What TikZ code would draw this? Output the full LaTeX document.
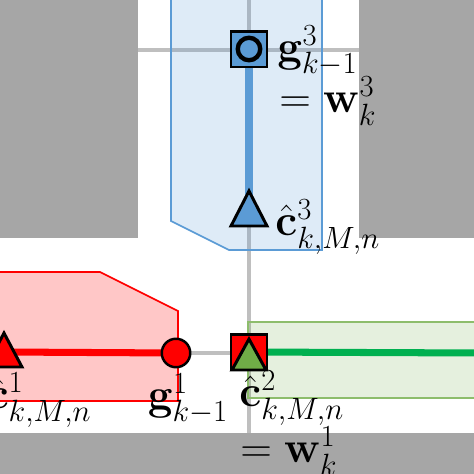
\documentclass[tikz,border=0pt]{standalone}
\usepackage{fix-cm}
\usepackage{amsmath,amssymb}
\usepackage{xcolor}
\usepackage{tikz}
\usetikzlibrary{positioning}
\definecolor{mapGray}{HTML}{A6A6A6}
\definecolor{roadGray}{HTML}{BFBFBF}
\definecolor{agtBlue}{HTML}{5B9BD5}
\definecolor{agtRed}{HTML}{FF0000}
\definecolor{agtGreen}{HTML}{70AD47}
\definecolor{pathGreen}{HTML}{00B050}

\begin{document}
\begin{tikzpicture}[x=0.02cm, y=-0.02cm, font=\fontsize{25}{30}\selectfont,
  road/.style={roadGray,line width=2.3pt},
  zone/.style={line width=0.9pt},
  trail/.style={line width=4pt},
  marker/.style={draw=black,line width=1.7pt},
  box/.style={marker,rectangle,minimum size=0.72cm,inner sep=0pt},
  lbl/.style={inner sep=0pt}]
\useasboundingbox (0,0) rectangle (474,474);
\clip (0,0) rectangle (474,474);
% map: blocks and roads
\fill[mapGray] (0,0) rectangle (138,238);
\fill[mapGray] (359,0) rectangle (474,238);
\fill[mapGray] (0,433) rectangle (474,474);
\draw[road] (249,0) -- (249,433);
\draw[road] (138,50) -- (359,50);
\draw[road] (0,353) -- (474,353);
% zones of the three agents
\draw[zone,draw=agtBlue,fill=agtBlue,fill opacity=0.2]
  (171,-5) -- (171,221) -- (229,250) -- (322,250) -- (322,-5) -- cycle;
\draw[zone,draw=agtRed,fill=agtRed,fill opacity=0.22]
  (-5,272) -- (100,272) -- (178,311) -- (178,401) -- (-5,401) -- cycle;
\draw[zone,draw=agtGreen!80,fill=agtGreen,fill opacity=0.18]
  (248,322) rectangle (480,398);
% marker positions
\coordinate (g3) at (249,49);
\coordinate (c3) at (249,212);
\coordinate (c1) at (4,352);
\coordinate (g1) at (176,353);
\coordinate (c2) at (249,352);
\coordinate (east) at (480,353);
% trails
\draw[trail,agtBlue] (g3) -- (c3);
\draw[trail,agtRed] (c1) -- (g1);
\draw[trail,pathGreen] (c2) -- (east);
% agent 3
\node[box,fill=agtBlue] (g3box) at (g3) {};
\node[circle,draw=black,line width=2.5pt,fill=agtBlue,minimum size=0.45cm,inner sep=0pt]
  (g3dot) at (g3) {};
\draw[marker,fill=agtBlue,line join=miter] (c3) ++(0,-21) -- ++(18,35) -- ++(-36,0) -- cycle;
% agent 1
\draw[marker,fill=agtRed] (c1) ++(0,-19) -- ++(18,34) -- ++(-36,0) -- cycle;
\node[circle,marker,line width=1.4pt,fill=agtRed,minimum size=0.57cm,inner sep=0pt]
  (g1dot) at (g1) {};
% agent 2
\node[box,fill=agtRed] (c2box) at (c2) {};
\draw[marker,fill=agtGreen] (c2) ++(0,-13) -- ++(17,31) -- ++(-34,0) -- cycle;
% labels
\node[lbl,anchor=west] (g3lbl) at (277,51) {$\mathbf{g}^3_{k-1}$};
\node[lbl,anchor=west] (w3lbl) at (279,101) {$=\mathbf{w}^3_k$};
\node[lbl,anchor=west] (c3lbl) at (275,227) {$\hat{\mathbf{c}}^3_{k,M,n}$};
\node[lbl,anchor=east] (c1lbl) at (92,400) {$\hat{\mathbf{c}}^1_{k,M,n}$};
\node[lbl] (g1lbl) at (188,399) {$\mathbf{g}^1_{k-1}$};
\node[lbl,anchor=west] (c2lbl) at (239,398) {$\hat{\mathbf{c}}^2_{k,M,n}$};
\node[lbl,anchor=west] (w1lbl) at (240,451) {$=\mathbf{w}^1_k$};
\end{tikzpicture}
\end{document}
